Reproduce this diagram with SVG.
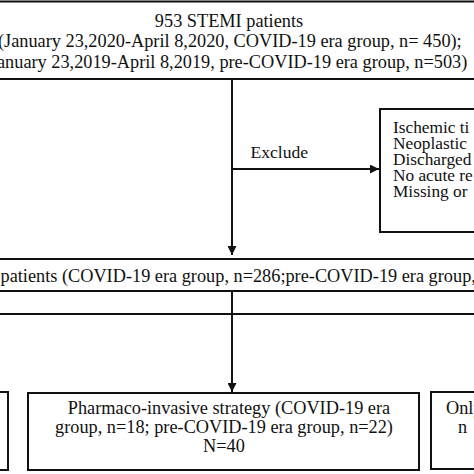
<svg xmlns="http://www.w3.org/2000/svg" width="474" height="474" viewBox="0 0 474 474">
<style>
.box{fill:#fff;stroke:#111;stroke-width:2}
.ln{stroke:#111;stroke-width:2;fill:none}
text{font-family:"Liberation Serif","Times New Roman",serif;fill:#111;font-size:18.3px}
.c{text-anchor:middle}
.sm{font-size:17.3px}
</style>
<defs>
<marker id="ah" viewBox="0 0 10 10" refX="10" refY="5" markerWidth="9" markerHeight="9" markerUnits="userSpaceOnUse" orient="auto">
<path d="M0,0 L10,5 L0,10 z" fill="#111"/>
</marker>
</defs>
<rect width="474" height="474" fill="#fff"/>
<g id="connectors">
<line class="ln" x1="232" y1="79" x2="232" y2="255" marker-end="url(#ah)"/>
<line class="ln" x1="232" y1="169" x2="379" y2="169" marker-end="url(#ah)"/>
<line class="ln" x1="232" y1="291" x2="232" y2="392" marker-end="url(#ah)"/>
<line class="ln" x1="-5" y1="314" x2="479" y2="314"/>
</g>
<g id="node-stemi">
<rect class="box" x="-5" y="1.5" width="484" height="77.5"/>
<text class="c" x="229" y="26.5">953 STEMI patients</text>
<text x="-2" y="47">(January 23,2020-April 8,2020, COVID-19 era group, n= 450);</text>
<text x="-3" y="68">anuary 23,2019-April 8,2019, pre-COVID-19 era group, n=503)</text>
</g>
<g id="label-exclude">
<text x="250.5" y="158" style="font-size:17.6px">Exclude</text>
</g>
<g id="node-exclude">
<rect class="box" x="380" y="109" width="100" height="123"/>
<text class="sm" x="393" y="133">Ischemic ti</text>
<text class="sm" x="393" y="149">Neoplastic</text>
<text class="sm" x="393" y="165">Discharged</text>
<text class="sm" x="393" y="181">No acute re</text>
<text class="sm" x="393" y="197">Missing or</text>
</g>
<g id="node-patients">
<rect class="box" x="-5" y="259" width="484" height="32"/>
<text x="0.5" y="282">patients (COVID-19 era group, n=286;pre-COVID-19 era group,</text>
</g>
<g id="node-left">
<rect class="box" x="-10" y="392" width="18" height="78"/>
</g>
<g id="node-pharmaco">
<rect class="box" x="28" y="393" width="391" height="77"/>
<text class="c" x="229" y="414">Pharmaco-invasive strategy (COVID-19 era</text>
<text class="c" x="224" y="433">group, n=18; pre-COVID-19 era group, n=22)</text>
<text class="c" x="224" y="452">N=40</text>
</g>
<g id="node-right">
<rect class="box" x="431" y="392" width="60" height="77"/>
<text x="446" y="414">Only</text>
<text x="458" y="433">n</text>
</g>
</svg>
